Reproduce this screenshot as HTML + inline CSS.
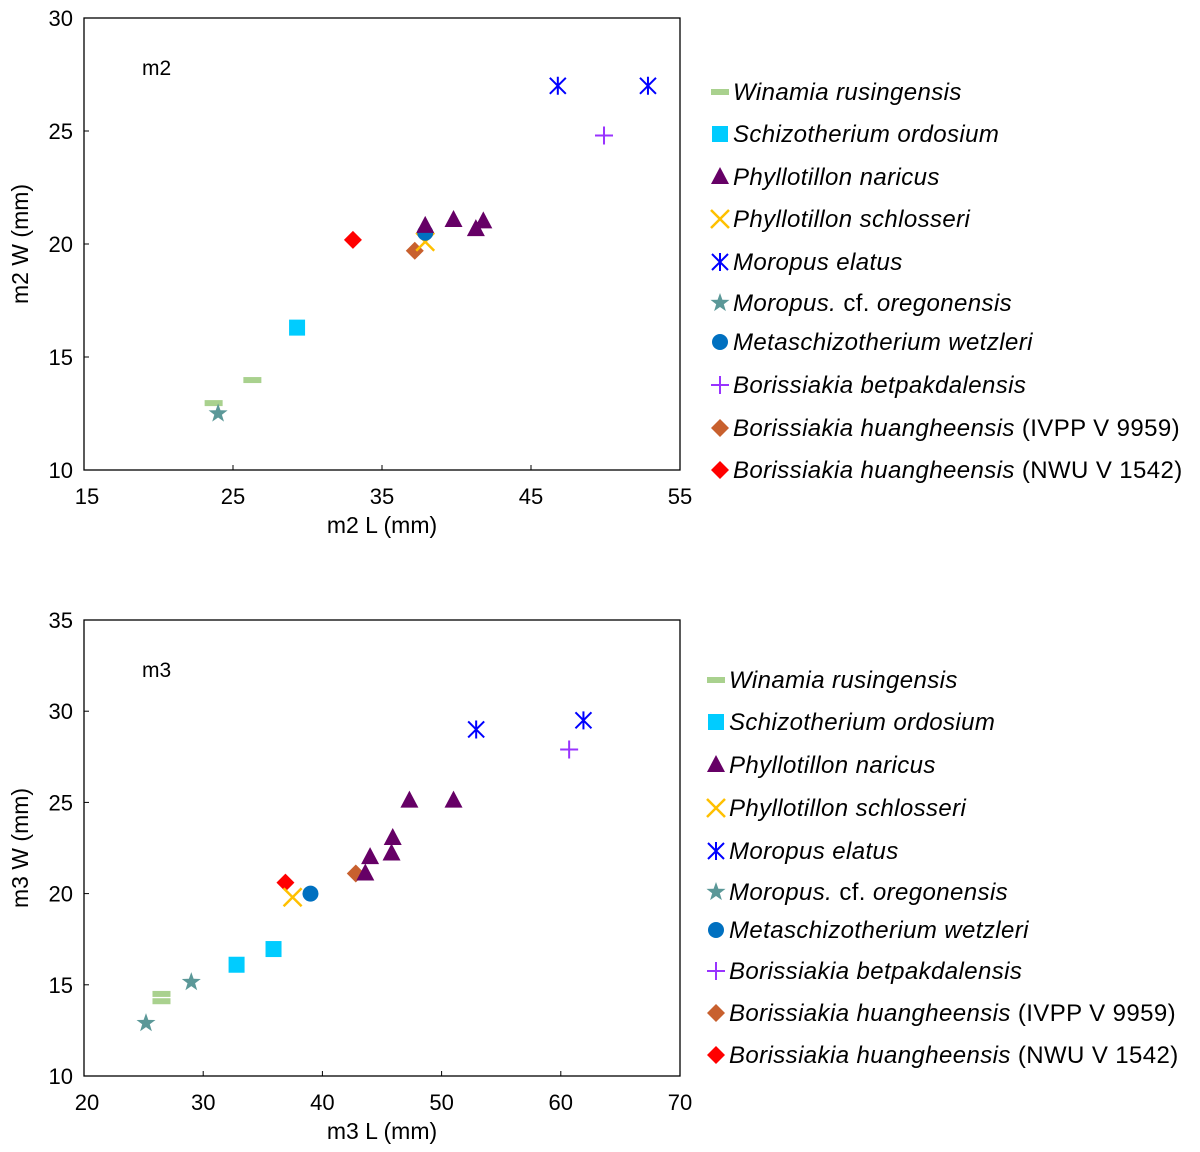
<!DOCTYPE html>
<html><head><meta charset="utf-8"><style>
body{margin:0;background:#fff;}
svg{display:block;font-family:"Liberation Sans",Arial,sans-serif;}
</style></head><body>
<svg id="chart" width="1200" height="1152" viewBox="0 0 1200 1152"></svg>
<script>
const species = ["Winamia rusingensis","Schizotherium ordosium","Phyllotillon naricus","Phyllotillon schlosseri","Moropus elatus","Moropus.","Metaschizotherium wetzleri","Borissiakia betpakdalensis","Borissiakia huangheensis","Borissiakia huangheensis"];
const suffixes = ["","","","","",["cf.","oregonensis"],"","","(IVPP V 9959)","(NWU V 1542)"];
const markers = ["dash","square","triangle","x","asterisk","star","circle","plus","diamond","diamond"];
const colors = ["#a9d18e","#00ccff","#660066","#ffc000","#0000ff","#5b9898","#0070c0","#9933ff","#c8602e","#ff0000"];
const m2L = [[23.7,26.3],[29.3],[37.9,39.8,41.3,41.8],[37.9],[46.8,52.85],[24.0],[37.9],[49.9],[37.2],[33.05]];
const m2W = [[12.96,13.98],[16.3],[20.8,21.06,20.66,21.0],[20.1],[27.0,27.0],[12.5],[20.5],[24.8],[19.7],[20.18]];
const m3L = [[26.5,26.5],[32.8,35.9],[47.3,51.0,45.9,45.8,44.0,43.6],[37.5],[52.9,61.9],[25.2,29.0],[39.0],[60.7],[42.8],[36.9]];
const m3W = [[14.5,14.1],[16.1,16.96],[25.1,25.1,23.05,22.2,22.0,21.1],[19.8],[29.0,29.5],[12.9,15.15],[20.0],[27.9],[21.1],[20.6]];
const m2XTicks = [15,25,35,45,55];
const m2YTicks = [10,15,20,25,30];
const m3XTicks = [20,30,40,50,60,70];
const m3YTicks = [10,15,20,25,30,35];
const drawOrder = [0,1,5,9,8,3,6,2,4,7];

const svg = document.getElementById('chart');
const NS = 'http://www.w3.org/2000/svg';
function mk(tag, attrs, parent){const e=document.createElementNS(NS,tag);for(const k in attrs)e.setAttribute(k,attrs[k]);(parent||svg).appendChild(e);return e;}

function marker(g, type, cx, cy, c){
  if(type==='dash'){return mk('rect',{x:cx-9,y:cy-3,width:18,height:6,fill:c},g);}
  if(type==='square'){return mk('rect',{x:cx-8,y:cy-8,width:16,height:16,fill:c},g);}
  if(type==='triangle'){return mk('polygon',{points:`${cx},${cy-10} ${cx+9},${cy+7} ${cx-9},${cy+7}`,fill:c},g);}
  if(type==='circle'){return mk('circle',{cx:cx,cy:cy,r:8,fill:c},g);}
  if(type==='diamond'){return mk('polygon',{points:`${cx},${cy-9} ${cx+9},${cy} ${cx},${cy+9} ${cx-9},${cy}`,fill:c},g);}
  if(type==='x'){return mk('path',{d:`M${cx-9} ${cy-9}L${cx+9} ${cy+9}M${cx+9} ${cy-9}L${cx-9} ${cy+9}`,stroke:c,'stroke-width':2.5,fill:'none'},g);}
  if(type==='plus'){return mk('path',{d:`M${cx-9} ${cy}L${cx+9} ${cy}M${cx} ${cy-9}L${cx} ${cy+9}`,stroke:c,'stroke-width':2,fill:'none'},g);}
  if(type==='asterisk'){return mk('path',{d:`M${cx-8} ${cy-8}L${cx+8} ${cy+8}M${cx+8} ${cy-8}L${cx-8} ${cy+8}M${cx} ${cy-9}L${cx} ${cy+9}`,stroke:c,'stroke-width':2,fill:'none'},g);}
  if(type==='star'){let p=[];for(let i=0;i<10;i++){const r=i%2?4:10;const a=-Math.PI/2+i*Math.PI/5;p.push((cx+r*Math.cos(a)).toFixed(1)+','+(cy+r*Math.sin(a)).toFixed(1));}return mk('polygon',{points:p.join(' '),fill:c},g);}
}

function panel(opt){
  const {left,top,right,bottom,xMin,xMax,yMin,yMax,xTicks,yTicks,L,W,label,xTitle,yTitle,legX,legYs,name}=opt;
  const sx=v=>left+(v-xMin)/(xMax-xMin)*(right-left);
  const sy=v=>bottom-(v-yMin)/(yMax-yMin)*(bottom-top);
  const g=mk('g',{});
  
  
  const box=mk('rect',{x:left,y:top,width:right-left,height:bottom-top,fill:'none',stroke:'#000','stroke-width':1.3},g);
  
  
  xTicks.forEach((t,i)=>{
    const x=sx(t);
    mk('line',{x1:x,y1:bottom,x2:x,y2:bottom-5,stroke:'#000'},g);
    const tx=mk('text',{x:x+(i===0?3:0),y:bottom+34,'text-anchor':'middle','font-size':22},g);
    tx.textContent=t;
    
    
  });
  yTicks.forEach(t=>{
    const y=sy(t);
    mk('line',{x1:left,y1:y,x2:left+5,y2:y,stroke:'#000'},g);
    const tx=mk('text',{x:left-11,y:y+8,'text-anchor':'end','font-size':22},g);
    tx.textContent=t;
    
    
  });
  const lb=mk('text',{x:left+58,y:top+57,'font-size':21},g);
  lb.textContent=label;
  
  
  const xt=mk('text',{x:(left+right)/2,y:bottom+63,'text-anchor':'middle','font-size':23},g);
  xt.textContent=xTitle;
  
  
  const yt=mk('text',{x:0,y:0,'text-anchor':'middle','font-size':23,transform:`translate(28,${(top+bottom)/2}) rotate(-90)`},g);
  yt.textContent=yTitle;
  
  
  drawOrder.forEach(s=>{
    L[s].forEach((v,j)=>{
      const m=marker(g,markers[s],sx(v),sy(W[s][j]),colors[s]);
      
      
    });
  });
  species.forEach((sp,i)=>{
    const lg=mk('g',{},g);
    
    
    marker(lg,markers[i],legX,legYs[i],colors[i]);
    const t=mk('text',{x:legX+13,y:legYs[i]+8,'font-size':24,'letter-spacing':'0.4'},lg);
    t.setAttribute('xml:space','preserve');
    const it=mk('tspan',{'font-style':'italic'},t);
    it.textContent=sp;
    const sf=suffixes[i];
    if(Array.isArray(sf)){
      const a=mk('tspan',{},t);a.textContent=' '+sf[0]+' ';
      const b=mk('tspan',{'font-style':'italic'},t);b.textContent=sf[1];
    } else if(sf){const s2=mk('tspan',{},t);s2.textContent=(i===9?'  ':' ')+sf;}
  });
}

panel({left:84,top:18,right:680,bottom:470,xMin:15,xMax:55,yMin:10,yMax:30,xTicks:m2XTicks,yTicks:m2YTicks,L:m2L,W:m2W,label:'m2',xTitle:'m2 L (mm)',yTitle:'m2 W (mm)',legX:720,legYs:[92,134,177,219,262,303,342,385,428,470],name:'m2-chart'});
panel({left:84,top:620,right:680,bottom:1076,xMin:20,xMax:70,yMin:10,yMax:35,xTicks:m3XTicks,yTicks:m3YTicks,L:m3L,W:m3W,label:'m3',xTitle:'m3 L (mm)',yTitle:'m3 W (mm)',legX:716,legYs:[680,722,765,808,851,892,930,971,1013,1055],name:'m3-chart'});
</script>
</body></html>
